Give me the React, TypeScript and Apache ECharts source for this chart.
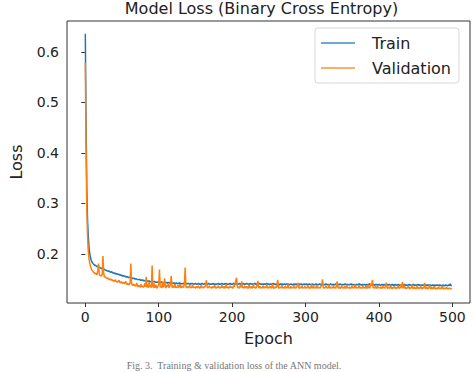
import React, { useEffect, useRef } from "react";
import * as echarts from "echarts";

const titleText = "Model Loss (Binary Cross Entropy)";
const xLabel = "Epoch";
const yLabel = "Loss";
const seriesNames = ["Train", "Validation"];
const seriesColors = ["#1f77b4", "#ff7f0e"];
const xTicks = [0, 100, 200, 300, 400, 500];
const yTicks = [0.2, 0.3, 0.4, 0.5, 0.6];
const caption = "Fig. 3.  Training & validation loss of the ANN model.";

// loss per epoch (epoch = index)
const trainLoss = [
  0.636, 0.452, 0.331, 0.268, 0.236, 0.214, 0.201, 0.193, 0.188, 0.184, 0.182, 0.180, 0.179, 0.177, 0.178, 0.176, 0.175, 0.176, 0.174, 0.173,
  0.173, 0.172, 0.171, 0.172, 0.170, 0.169, 0.170, 0.168, 0.168, 0.167, 0.166, 0.167, 0.165, 0.166, 0.164, 0.164, 0.165, 0.163, 0.162, 0.163,
  0.161, 0.162, 0.160, 0.161, 0.160, 0.159, 0.160, 0.158, 0.159, 0.157, 0.158, 0.156, 0.157, 0.156, 0.155, 0.156, 0.154, 0.155, 0.154, 0.153,
  0.154, 0.153, 0.152, 0.153, 0.152, 0.151, 0.152, 0.151, 0.150, 0.151, 0.150, 0.149, 0.150, 0.149, 0.150, 0.148, 0.149, 0.148, 0.149, 0.147,
  0.148, 0.147, 0.148, 0.147, 0.146, 0.147, 0.146, 0.147, 0.146, 0.145, 0.146, 0.145, 0.146, 0.145, 0.146, 0.145, 0.144, 0.145, 0.144, 0.145,
  0.144, 0.145, 0.144, 0.143, 0.145, 0.144, 0.143, 0.144, 0.143, 0.144, 0.143, 0.144, 0.142, 0.143, 0.144, 0.143, 0.142, 0.143, 0.142, 0.143,
  0.142, 0.143, 0.142, 0.141, 0.143, 0.142, 0.141, 0.142, 0.143, 0.141, 0.142, 0.141, 0.142, 0.141, 0.142, 0.143, 0.141, 0.142, 0.141, 0.142,
  0.141, 0.142, 0.141, 0.140, 0.142, 0.141, 0.142, 0.141, 0.140, 0.141, 0.142, 0.141, 0.140, 0.141, 0.142, 0.140, 0.141, 0.140, 0.141, 0.142,
  0.141, 0.140, 0.141, 0.142, 0.141, 0.140, 0.141, 0.140, 0.142, 0.141, 0.140, 0.141, 0.140, 0.141, 0.142, 0.140, 0.141, 0.140, 0.141, 0.140,
  0.141, 0.142, 0.140, 0.141, 0.140, 0.141, 0.142, 0.141, 0.140, 0.141, 0.140, 0.142, 0.141, 0.140, 0.141, 0.140, 0.141, 0.142, 0.140, 0.141,
  0.140, 0.141, 0.142, 0.140, 0.141, 0.140, 0.142, 0.141, 0.140, 0.141, 0.142, 0.140, 0.141, 0.140, 0.141, 0.142, 0.140, 0.141, 0.140, 0.141,
  0.142, 0.141, 0.140, 0.141, 0.140, 0.142, 0.141, 0.140, 0.141, 0.140, 0.141, 0.142, 0.140, 0.141, 0.140, 0.141, 0.140, 0.142, 0.141, 0.140,
  0.141, 0.140, 0.141, 0.139, 0.141, 0.140, 0.141, 0.142, 0.140, 0.141, 0.140, 0.139, 0.141, 0.140, 0.141, 0.140, 0.142, 0.140, 0.141, 0.140,
  0.139, 0.141, 0.140, 0.141, 0.140, 0.139, 0.141, 0.140, 0.141, 0.139, 0.140, 0.141, 0.140, 0.139, 0.141, 0.140, 0.141, 0.140, 0.139, 0.140,
  0.141, 0.140, 0.139, 0.140, 0.141, 0.140, 0.139, 0.141, 0.140, 0.139, 0.140, 0.141, 0.139, 0.140, 0.141, 0.140, 0.139, 0.140, 0.141, 0.139,
  0.140, 0.141, 0.139, 0.140, 0.139, 0.141, 0.140, 0.139, 0.140, 0.141, 0.139, 0.140, 0.139, 0.140, 0.141, 0.139, 0.140, 0.139, 0.140, 0.141,
  0.139, 0.140, 0.139, 0.141, 0.140, 0.139, 0.140, 0.139, 0.141, 0.140, 0.139, 0.140, 0.139, 0.140, 0.141, 0.139, 0.140, 0.139, 0.140, 0.139,
  0.140, 0.141, 0.139, 0.140, 0.139, 0.140, 0.139, 0.141, 0.140, 0.139, 0.140, 0.139, 0.140, 0.139, 0.141, 0.140, 0.139, 0.140, 0.139, 0.140,
  0.139, 0.140, 0.141, 0.139, 0.140, 0.139, 0.140, 0.139, 0.138, 0.140, 0.139, 0.140, 0.139, 0.141, 0.139, 0.140, 0.139, 0.138, 0.140, 0.139,
  0.140, 0.139, 0.138, 0.140, 0.139, 0.140, 0.139, 0.141, 0.139, 0.138, 0.140, 0.139, 0.140, 0.139, 0.138, 0.140, 0.139, 0.140, 0.138, 0.139,
  0.140, 0.139, 0.138, 0.139, 0.140, 0.139, 0.138, 0.140, 0.139, 0.138, 0.139, 0.140, 0.138, 0.139, 0.140, 0.139, 0.138, 0.139, 0.140, 0.138,
  0.139, 0.138, 0.140, 0.139, 0.138, 0.139, 0.140, 0.138, 0.139, 0.138, 0.139, 0.140, 0.138, 0.139, 0.138, 0.140, 0.139, 0.138, 0.139, 0.138,
  0.139, 0.140, 0.138, 0.139, 0.138, 0.139, 0.138, 0.140, 0.139, 0.138, 0.139, 0.138, 0.139, 0.140, 0.138, 0.139, 0.138, 0.139, 0.138, 0.139,
  0.138, 0.139, 0.140, 0.138, 0.139, 0.138, 0.139, 0.137, 0.139, 0.138, 0.139, 0.138, 0.137, 0.139, 0.138, 0.139, 0.138, 0.137, 0.139, 0.138,
  0.139, 0.138, 0.137, 0.139, 0.138, 0.137, 0.138, 0.139, 0.137, 0.138, 0.137, 0.139, 0.138, 0.137, 0.138, 0.139, 0.137, 0.141, 0.138, 0.137,
];

const validationLoss = [
  0.578, 0.410, 0.292, 0.236, 0.206, 0.191, 0.182, 0.176, 0.171, 0.168, 0.166, 0.164, 0.163, 0.161, 0.162, 0.160, 0.159, 0.168, 0.181, 0.161,
  0.157, 0.158, 0.156, 0.160, 0.196, 0.162, 0.154, 0.155, 0.153, 0.152, 0.151, 0.153, 0.150, 0.149, 0.151, 0.148, 0.150, 0.147, 0.148, 0.146,
  0.147, 0.149, 0.145, 0.146, 0.144, 0.146, 0.148, 0.144, 0.143, 0.145, 0.143, 0.142, 0.144, 0.141, 0.143, 0.146, 0.141, 0.140, 0.142, 0.139,
  0.140, 0.142, 0.181, 0.141, 0.139, 0.138, 0.140, 0.137, 0.139, 0.136, 0.143, 0.137, 0.135, 0.138, 0.136, 0.134, 0.140, 0.135, 0.137, 0.134,
  0.136, 0.142, 0.135, 0.155, 0.134, 0.140, 0.133, 0.145, 0.135, 0.138, 0.133, 0.177, 0.136, 0.134, 0.142, 0.133, 0.139, 0.134, 0.132, 0.137,
  0.140, 0.169, 0.134, 0.136, 0.133, 0.145, 0.134, 0.138, 0.152, 0.134, 0.133, 0.139, 0.135, 0.142, 0.133, 0.136, 0.140, 0.157, 0.135, 0.133,
  0.137, 0.134, 0.141, 0.133, 0.135, 0.134, 0.138, 0.133, 0.136, 0.140, 0.134, 0.133, 0.137, 0.135, 0.134, 0.143, 0.173, 0.135, 0.133, 0.136,
  0.134, 0.133, 0.138, 0.135, 0.133, 0.134, 0.139, 0.133, 0.135, 0.134, 0.132, 0.136, 0.134, 0.133, 0.137, 0.134, 0.132, 0.135, 0.138, 0.133,
  0.134, 0.133, 0.136, 0.134, 0.140, 0.148, 0.134, 0.133, 0.135, 0.137, 0.133, 0.134, 0.132, 0.136, 0.134, 0.133, 0.139, 0.134, 0.132, 0.135,
  0.133, 0.137, 0.134, 0.132, 0.135, 0.133, 0.138, 0.134, 0.133, 0.136, 0.132, 0.134, 0.140, 0.133, 0.135, 0.132, 0.134, 0.137, 0.133, 0.135,
  0.134, 0.132, 0.138, 0.135, 0.141, 0.147, 0.153, 0.136, 0.133, 0.135, 0.132, 0.138, 0.134, 0.146, 0.133, 0.135, 0.132, 0.137, 0.134, 0.133,
  0.136, 0.133, 0.132, 0.139, 0.134, 0.133, 0.136, 0.132, 0.134, 0.140, 0.133, 0.135, 0.132, 0.134, 0.138, 0.147, 0.134, 0.133, 0.136, 0.132,
  0.134, 0.133, 0.137, 0.132, 0.135, 0.134, 0.133, 0.139, 0.134, 0.132, 0.135, 0.133, 0.136, 0.132, 0.134, 0.141, 0.133, 0.132, 0.135, 0.134,
  0.133, 0.137, 0.149, 0.134, 0.132, 0.135, 0.133, 0.134, 0.138, 0.132, 0.134, 0.133, 0.136, 0.132, 0.135, 0.133, 0.140, 0.132, 0.134, 0.133,
  0.136, 0.132, 0.134, 0.133, 0.138, 0.132, 0.135, 0.133, 0.134, 0.139, 0.143, 0.133, 0.132, 0.135, 0.133, 0.137, 0.132, 0.134, 0.133, 0.136,
  0.132, 0.134, 0.133, 0.138, 0.132, 0.135, 0.133, 0.132, 0.140, 0.134, 0.133, 0.136, 0.132, 0.134, 0.133, 0.139, 0.132, 0.135, 0.133, 0.134,
  0.132, 0.137, 0.138, 0.150, 0.135, 0.132, 0.134, 0.133, 0.137, 0.132, 0.134, 0.133, 0.140, 0.132, 0.135, 0.133, 0.134, 0.132, 0.138, 0.133,
  0.134, 0.132, 0.137, 0.146, 0.134, 0.132, 0.135, 0.133, 0.132, 0.138, 0.133, 0.134, 0.132, 0.136, 0.133, 0.132, 0.139, 0.133, 0.134, 0.132,
  0.135, 0.133, 0.132, 0.137, 0.133, 0.134, 0.132, 0.140, 0.133, 0.135, 0.132, 0.134, 0.133, 0.138, 0.132, 0.134, 0.133, 0.132, 0.136, 0.133,
  0.134, 0.132, 0.137, 0.133, 0.132, 0.139, 0.134, 0.132, 0.135, 0.142, 0.138, 0.149, 0.133, 0.134, 0.132, 0.136, 0.133, 0.132, 0.138, 0.133,
  0.134, 0.132, 0.135, 0.133, 0.132, 0.137, 0.133, 0.134, 0.132, 0.139, 0.143, 0.133, 0.132, 0.135, 0.133, 0.132, 0.137, 0.133, 0.131, 0.134,
  0.132, 0.136, 0.133, 0.131, 0.134, 0.132, 0.138, 0.133, 0.132, 0.135, 0.140, 0.132, 0.145, 0.134, 0.132, 0.136, 0.133, 0.131, 0.134, 0.132,
  0.137, 0.133, 0.131, 0.134, 0.132, 0.139, 0.133, 0.131, 0.135, 0.132, 0.133, 0.131, 0.136, 0.132, 0.134, 0.131, 0.133, 0.137, 0.132, 0.131,
  0.134, 0.132, 0.143, 0.133, 0.131, 0.135, 0.132, 0.131, 0.134, 0.138, 0.132, 0.131, 0.134, 0.132, 0.131, 0.136, 0.132, 0.131, 0.133, 0.131,
  0.132, 0.135, 0.131, 0.133, 0.132, 0.131, 0.137, 0.132, 0.131, 0.133, 0.131, 0.132, 0.134, 0.131, 0.132, 0.131, 0.133, 0.131, 0.132, 0.131,
];

const FONT = "DejaVu Sans";

export default function App() {
  const ref = useRef<HTMLDivElement>(null);
  useEffect(() => {
    if (!ref.current) return;
    const chart = echarts.init(ref.current, null, { renderer: "svg" });
    const allSeries = [trainLoss, validationLoss];
    chart.setOption({
      animation: false,
      backgroundColor: "#ffffff",
      grid: {
        left: 53,
        right: 4,
        top: 21,
        bottom: 69,
        show: true,
        borderColor: "#333333",
        borderWidth: 1,
        backgroundColor: "transparent",
      },
      xAxis: {
        type: "value",
        min: -24.95,
        max: 523.95,
        name: xLabel,
        nameLocation: "middle",
        nameGap: 27,
        nameTextStyle: { fontFamily: FONT, fontSize: 16, color: "#222" },
        axisLine: { show: false },
        axisTick: { show: true, length: 4, customValues: xTicks, lineStyle: { color: "#333" } },
        axisLabel: {
          customValues: xTicks,
          fontFamily: FONT,
          fontSize: 14,
          color: "#222",
          margin: 7,
          formatter: (v: number) => String(v),
        },
        splitLine: { show: false },
      },
      yAxis: {
        type: "value",
        min: 0.103,
        max: 0.661,
        name: yLabel,
        nameLocation: "middle",
        nameGap: 43,
        nameRotate: 90,
        nameTextStyle: { fontFamily: FONT, fontSize: 16, color: "#222" },
        axisLine: { show: false },
        axisTick: { show: true, length: 4, customValues: yTicks, lineStyle: { color: "#333" } },
        axisLabel: {
          customValues: yTicks,
          fontFamily: FONT,
          fontSize: 14,
          color: "#222",
          margin: 8,
          formatter: (v: number) => v.toFixed(1),
        },
        splitLine: { show: false },
      },
      legend: {
        data: seriesNames,
        orient: "vertical",
        left: 315,
        top: 28,
        icon: "rect",
        itemWidth: 34,
        itemHeight: 1.6,
        itemGap: 9,
        padding: [7, 8, 7, 6],
        borderColor: "#d6d6d6",
        borderWidth: 1,
        borderRadius: 3,
        backgroundColor: "#ffffff",
        itemStyle: { opacity: 0.85 },
        textStyle: { fontFamily: FONT, fontSize: 16, color: "#222", padding: [0, 0, 0, 12], lineHeight: 16 },
      },
      series: seriesNames.map((name, k) => ({
        name,
        type: "line",
        symbol: "none",
        showSymbol: false,
        data: allSeries[k].map((v, i) => [i, v]),
        lineStyle: { color: seriesColors[k], width: 1.5 },
        itemStyle: { color: seriesColors[k] },
        z: 2 + k,
      })),
      graphic: [
        {
          type: "text",
          x: 261.5,
          y: 8.5,
          style: {
            text: titleText,
            font: `16px "${FONT}"`,
            fill: "#222",
            align: "center",
            verticalAlign: "middle",
          },
        },
        {
          type: "text",
          x: 234,
          y: 365,
          style: {
            text: caption,
            font: `10px "Liberation Serif"`,
            fill: "#777",
            align: "center",
            verticalAlign: "middle",
          },
        },
      ],
    });
    return () => chart.dispose();
  }, []);
  return <div ref={ref} style={{ position: "absolute", left: 0, top: 0, width: 474, height: 372 }} />;
}
